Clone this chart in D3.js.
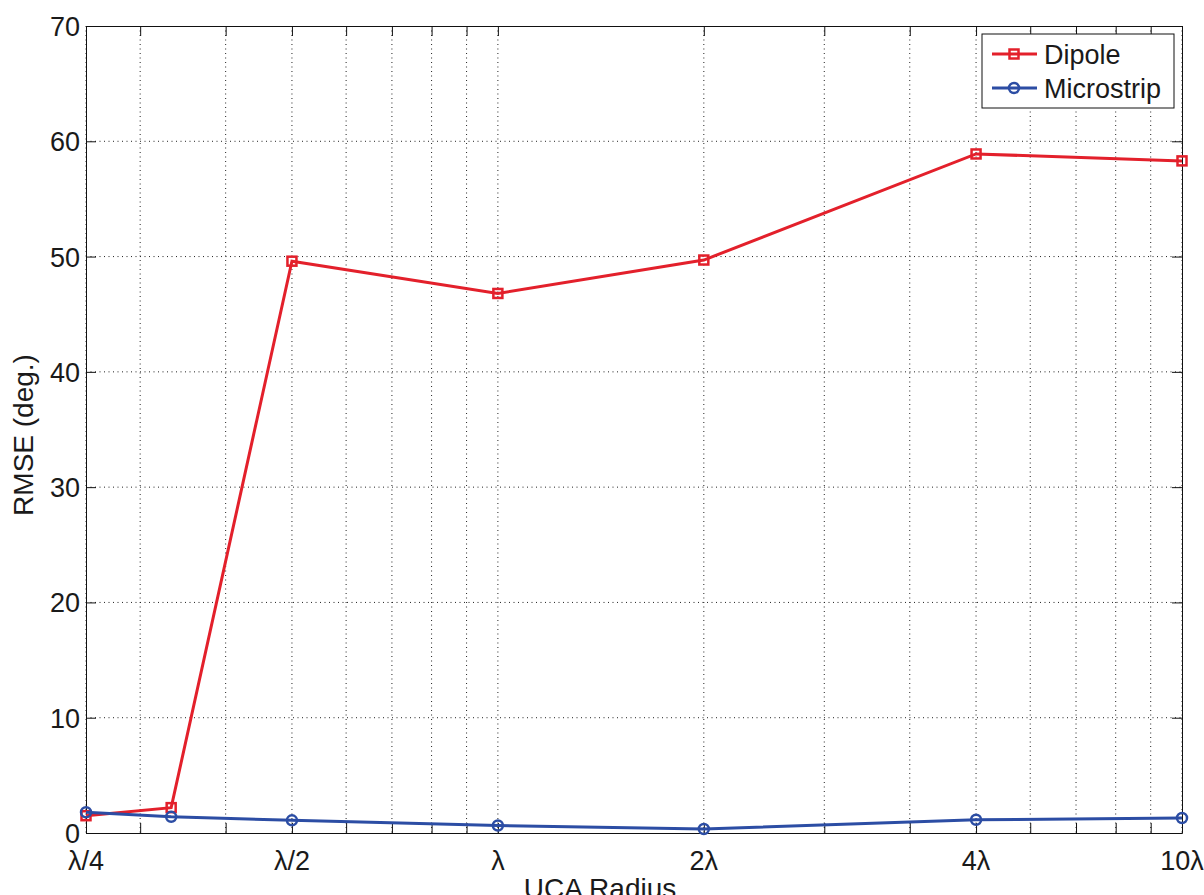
<!DOCTYPE html>
<html>
<head>
<meta charset="utf-8">
<script src="https://cdn.jsdelivr.net/npm/d3@7"></script>
<style>
  body { margin: 0; background: #fff; }
  text { font-family: "Liberation Sans", Arial, sans-serif; fill: #1a1a1a; }
</style>
</head>
<body>
<svg id="chart"></svg>
<script>
// data
const radius = [0.25, 0.333, 0.5, 1, 2, 5, 10]
const dipole = [1.5, 2.2, 49.6, 46.8, 49.7, 58.9, 58.3]
const microstrip = [1.8, 1.4, 1.1, 0.65, 0.35, 1.15, 1.3]
const xTickVals = [0.25, 0.5, 1, 2, 5, 10]
const xTickLabels = ["λ/4", "λ/2", "λ", "2λ", "4λ", "10λ"]
const xMinor = [0.3, 0.4, 0.6, 0.7, 0.8, 0.9, 3, 4, 6, 7, 8, 9]
const yTicks = [0, 10, 20, 30, 40, 50, 60, 70]
const seriesNames = ["Dipole", "Microstrip"]

const W = 1204, H = 895
const plotL = 86, plotR = 1182, plotT = 26, plotB = 833
const red = "#e3202b", blue = "#2c4da4"

const svg = d3.select("svg#chart")
              .attr("width", W)
              .attr("height", H)

const x = d3.scaleLog().domain([0.25, 10]).range([plotL, plotR])
const y = d3.scaleLinear().domain([0, 70]).range([plotB, plotT])

//grid, vertical
const gridX = xTickVals.concat(xMinor)
svg.append("g").selectAll("line")
   .data(gridX)
   .join("line")
   .attr("x1", d => x(d))
   .attr("x2", d => x(d))
   .attr("y1", plotT)
   .attr("y2", plotB)
   .attr("stroke", "#222")
   .attr("stroke-width", 1)
   .attr("stroke-dasharray", "1,3.5")

//grid, horizontal
svg.append("g").selectAll("line")
   .data(yTicks.slice(1, -1))
   .join("line")
   .attr("x1", plotL)
   .attr("x2", plotR)
   .attr("y1", d => y(d))
   .attr("y2", d => y(d))
   .attr("stroke", "#222")
   .attr("stroke-width", 1)
   .attr("stroke-dasharray", "1,3.5")

//axes box with inward ticks
const axisStyle = g => {
    g.select(".domain").attr("stroke", "#111")
    g.selectAll(".tick line").attr("stroke", "#111")
}
svg.append("g")
   .attr("transform", `translate(0,${plotB})`)
   .call(d3.axisTop(x).tickValues(gridX).tickSize(10).tickSizeOuter(0).tickFormat(""))
   .call(axisStyle)
svg.append("g")
   .attr("transform", `translate(0,${plotT})`)
   .call(d3.axisBottom(x).tickValues(gridX).tickSize(10).tickSizeOuter(0).tickFormat(""))
   .call(axisStyle)
svg.append("g")
   .attr("transform", `translate(${plotL},0)`)
   .call(d3.axisRight(y).tickValues(yTicks).tickSize(10).tickSizeOuter(0).tickFormat(""))
   .call(axisStyle)
svg.append("g")
   .attr("transform", `translate(${plotR},0)`)
   .call(d3.axisLeft(y).tickValues(yTicks).tickSize(10).tickSizeOuter(0).tickFormat(""))
   .call(axisStyle)

//tick labels
svg.append("g").selectAll("text")
   .data(xTickVals)
   .join("text")
   .attr("x", d => x(d))
   .attr("y", 870)
   .attr("text-anchor", "middle")
   .attr("font-size", 27)
   .text((d, i) => xTickLabels[i])

svg.append("g").selectAll("text")
   .data(yTicks)
   .join("text")
   .attr("x", plotL - 6)
   .attr("y", d => y(d) + 10)
   .attr("text-anchor", "end")
   .attr("font-size", 27)
   .text(d => d)

//axis titles
svg.append("text")
   .attr("x", 600)
   .attr("y", 898)
   .attr("text-anchor", "middle")
   .attr("font-size", 28)
   .text("UCA Radius")

svg.append("text")
   .attr("transform", "translate(33,435) rotate(-90)")
   .attr("text-anchor", "middle")
   .attr("font-size", 28)
   .text("RMSE (deg.)")

//lines
const line = d3.line().x(d => x(d[0])).y(d => y(d[1]))
const dipolePts = radius.map((r, i) => [r, dipole[i]])
const microPts = radius.map((r, i) => [r, microstrip[i]])

function drawSeries(pts, color, shape){
    svg.append("path")
       .datum(pts)
       .attr("d", line)
       .attr("fill", "none")
       .attr("stroke", color)
       .attr("stroke-width", 3)
    pts.forEach(d => drawMarker(x(d[0]), y(d[1]), color, shape))
}

function drawMarker(cx, cy, color, shape){
    if (shape == "square") {
        svg.append("rect")
           .attr("x", cx - 4.5)
           .attr("y", cy - 4.5)
           .attr("width", 9)
           .attr("height", 9)
           .attr("fill", "none")
           .attr("stroke", color)
           .attr("stroke-width", 2.5)
    } else {
        svg.append("circle")
           .attr("cx", cx)
           .attr("cy", cy)
           .attr("r", 5)
           .attr("fill", "none")
           .attr("stroke", color)
           .attr("stroke-width", 2.5)
    }
}

drawSeries(dipolePts, red, "square")
drawSeries(microPts, blue, "circle")

//legend
svg.append("rect")
   .attr("x", 982)
   .attr("y", 34)
   .attr("width", 192)
   .attr("height", 74)
   .attr("fill", "white")
   .attr("stroke", "#111")
   .attr("stroke-width", 1)

const legendColors = [red, blue]
const legendShapes = ["square", "circle"]
seriesNames.forEach((name, i) => {
    const ly = 54 + i * 34
    svg.append("line")
       .attr("x1", 992)
       .attr("x2", 1037)
       .attr("y1", ly)
       .attr("y2", ly)
       .attr("stroke", legendColors[i])
       .attr("stroke-width", 3)
    drawMarker(1014, ly, legendColors[i], legendShapes[i])
    svg.append("text")
       .attr("x", 1044)
       .attr("y", ly + 10)
       .attr("font-size", 27)
       .text(name)
})
</script>
</body>
</html>
